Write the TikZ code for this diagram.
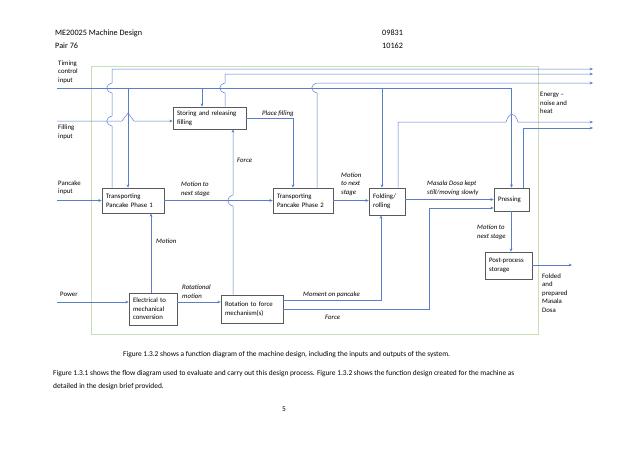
\documentclass[tikz,border=0pt]{standalone}
\usepackage{fontspec}
\setmainfont{Carlito}
\usetikzlibrary{arrows.meta,calc}
\definecolor{flowblue}{HTML}{5A7FCA}
\definecolor{boxgray}{HTML}{595959}
\definecolor{framegreen}{HTML}{C6E0B4}
\newcommand\dfont{\fontsize{6.8}{8.6}\selectfont}
\newcommand\bfont{\fontsize{7.4}{9}\selectfont}
\newcommand\hfont{\fontsize{8.2}{10}\selectfont}
\tikzset{
 flow/.style={draw=flowblue, line width=0.5pt},
 arr/.style={flow, -{Stealth[length=3.4pt,width=2.8pt]}},
 fbox/.style={draw=boxgray, line width=0.6pt, fill=white, align=left, font=\dfont, inner sep=0pt, anchor=center},
 lab/.style={font=\dfont\itshape, align=left, anchor=west, inner sep=0pt},
 plab/.style={font=\dfont, align=left, anchor=west, inner sep=0pt},
 body/.style={font=\bfont, anchor=west, inner sep=0pt},
 head/.style={font=\hfont, anchor=west, inner sep=0pt}
}
\begin{document}
\begin{tikzpicture}[x=1pt,y=-1pt]
\useasboundingbox (0,0) rectangle (638,451);
\fill[white] (0,0) rectangle (638,451);
% header
\node[head] (h1) at (55,33) {ME20025 Machine Design};
\node[head] (h2) at (55,46) {Pair 76};
\node[head] (h3) at (382,33) {09831};
\node[head] (h4) at (382,46) {10162};
% frame
\draw[framegreen, line width=0.9pt] (91,66.5) rectangle (538,334);
% boxes
\node[fbox, minimum width=73pt, minimum height=22pt, text width=65pt] (st) at (209.5,118) {Storing and releasing\\filling};
\node[fbox, minimum width=62pt, minimum height=25pt, text width=54pt] (p1) at (133,200.5) {Transporting\\Pancake Phase 1};
\node[fbox, minimum width=60pt, minimum height=25pt, text width=52pt] (p2) at (303,200.5) {Transporting\\Pancake Phase 2};
\node[fbox, minimum width=36pt, minimum height=27pt, text width=28pt] (fo) at (387,201.5) {Folding/\\rolling};
\node[fbox, minimum width=35pt, minimum height=23pt, text width=27pt] (pr) at (511.5,199.5) {Pressing};
\node[fbox, minimum width=47pt, minimum height=27pt, text width=39pt] (pp) at (508.5,265.5) {Post-process\\storage};
\node[fbox, minimum width=48pt, minimum height=32pt, text width=40pt] (el) at (153,309) {Electrical to\\mechanical\\conversion};
\node[fbox, minimum width=62pt, minimum height=28pt, text width=54pt] (rot) at (252,309) {Rotation to force\\mechanism(s)};
% free ends
\coordinate (tin) at (57,88);
\coordinate (fin) at (57,121);
\coordinate (pin) at (57,200.5);
\coordinate (pwin) at (57,302);
\coordinate (out1) at (593,69);
\coordinate (out2) at (593,74);
\coordinate (out3) at (593,83);
\coordinate (out4) at (593,122);
\coordinate (out5) at (593,128);
\coordinate (outP) at (572,265);
\coordinate (t1) at (128,88);
\coordinate (t2) at (202,88);
\coordinate (t3) at (382,88);
\coordinate (x112) at (112,0);
\coordinate (x225) at (225,0);
\coordinate (x317) at (317,0);
\coordinate (x398) at (398,0);
\coordinate (x523) at (523,0);
\coordinate (x233) at (233,0);
\coordinate (x151) at (151,0);
\coordinate (x381) at (381,0);
\coordinate (x511) at (511,0);
% timing control
\draw[arr] (tin) -| (pr.north);
\draw[arr] (t1) -- (p1.north -| t1);
\draw[arr] (t2) -- (st.north -| t2);
\draw[arr] (t3) -- (fo.north -| t3);
% filling
\draw[arr] (fin) -- (122,121) -- (128,113) -- (134,121) -- (st.west |- fin);
% pancake
\draw[arr] (pin) -- (p1.west);
\draw[arr] (p1.east) -- (p2.west);
\draw[arr] (st.east) -| ([xshift=-10pt]p2.north);
\draw[arr] (p2.east) -- (fo.west |- p2.east);
\draw[arr] (fo.east |- pr.west) -- (pr.west);
\draw[arr] (pr.south -| x511) -- (pp.north -| x511);
\draw[arr] (pp.east |- outP) -- (outP);
% power
\draw[arr] (pwin) -- (el.west |- pwin);
\draw[arr] (el.east |- pwin) -- (rot.west |- pwin);
\draw[arr] (el.north -| x151) -- (p1.south -| x151);
\draw[arr] (rot.north -| x233) -- (233,206) .. controls (226,204) and (226,197) .. (233,195) -- (st.south -| x233);
\draw[arr] (rot.east |- 0,300) -| (fo.south -| x381);
\draw[arr] (rot.east |- 0,309) -| (429,208) -- (pr.west |- 0,208);
% energy outputs
\draw[arr] (p1.north -| x112) -- (112,126) .. controls (105,124) and (105,118) .. (112,116) -- (112,93) .. controls (105,91) and (105,85) .. (112,83) -- (112,69) -- (out1);
\draw[arr] (st.north -| x225) -- (225,93) .. controls (218,91) and (218,85) .. (225,83) -- (225,74) -- (out2);
\draw[arr] (p2.north -| x317) -- (317,93) .. controls (310,91) and (310,85) .. (317,83) -- (out3);
\draw[arr] (fo.north -| x398) -- (398,122) -- (506,122) .. controls (509,112) and (515,112) .. (518,122) -- (out4);
\draw[arr] (pr.north -| x523) -- (523,128) -- (out5);
% outer labels
\node[plab] (lt) at (58,72) {Timing\\control\\input};
\node[plab] (lf) at (58,132) {Filling\\input};
\node[plab] (lp) at (58,187.5) {Pancake\\input};
\node[plab] (lw) at (60,294.5) {Power};
\node[plab] (le) at (540,103) {Energy –\\noise and\\heat};
\node[plab] (lo) at (542,293) {Folded\\and\\prepared\\Masala\\Dosa};
% flow labels
\node[lab] (l1) at (262,114) {Place filling};
\node[lab] (l2) at (237,160) {Force};
\node[lab] (l3) at (181,189.5) {Motion to\\next stage};
\node[lab] (l4) at (341,184) {Motion\\to next\\stage};
\node[lab] (l5) at (427,188) {Masala Dosa kept\\still/moving slowly};
\node[lab] (l6) at (477,232) {Motion to\\next stage};
\node[lab] (l7) at (156,241.5) {Motion};
\node[lab] (l8) at (182,291.5) {Rotational\\motion};
\node[lab] (l9) at (303,294.5) {Moment on pancake};
\node[lab] (l10) at (325,317.5) {Force};
% caption and body
\node[body] (c1) at (123,355) {Figure 1.3.2 shows a function diagram of the machine design, including the inputs and outputs of the system.};
\node[body] (c2) at (53,373.5) {Figure 1.3.1 shows the flow diagram used to evaluate and carry out this design process. Figure 1.3.2 shows the function design created for the machine as};
\node[body] (c3) at (53,386.5) {detailed in the design brief provided.};
\node[body, anchor=center] (pg) at (284,409) {5};
\end{tikzpicture}
\end{document}
